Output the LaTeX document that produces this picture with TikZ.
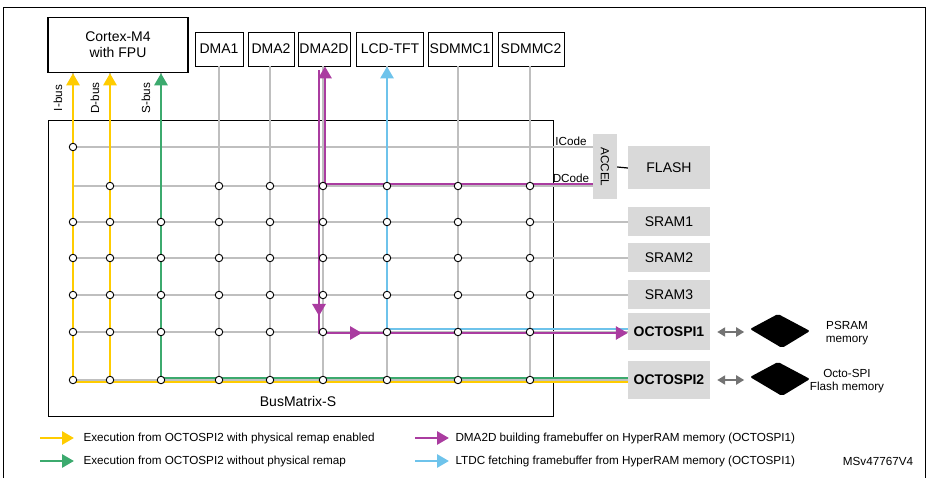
\documentclass[tikz,border=0pt]{standalone}
\usepackage{fontspec}
\setmainfont{Liberation Sans}
\usetikzlibrary{arrows.meta,positioning}
\definecolor{busY}{RGB}{255,204,0}
\definecolor{busG}{RGB}{60,170,110}
\definecolor{busM}{RGB}{170,60,160}
\definecolor{busC}{RGB}{110,195,235}
\definecolor{slaveG}{RGB}{217,217,217}
\tikzset{
  master/.style={%
    draw=black, thick, fill=white,
    minimum height=34pt, inner xsep=1pt,
    font=\fontsize{14}{16}\selectfont
  },
  slave/.style={%
    fill=slaveG, minimum width=82pt,
    font=\fontsize{14}{16}\selectfont
  },
  grid/.style={draw=black!25, line width=2pt},
  dot/.style={circle, draw=black, fill=white, inner sep=0pt,
    minimum size=7.5pt, line width=0.9pt},
  path/.style={line width=2.8pt, -{Triangle[length=12pt,width=13pt]}},
  small/.style={font=\fontsize{11.7}{13.5}\selectfont}
}
\begin{document}
\begin{tikzpicture}[x=1pt,y=-1pt]
\useasboundingbox (0,0) rectangle (930,481);
\draw[thin] (3,478) -- (3,7) -- (925,7) -- (925,478);

% Masters
\node[master, minimum width=140pt, minimum height=55pt, line width=1.6pt,
  align=center] (cpu) at (118,45) {Cortex-M4\\with FPU};
\node[master, minimum width=48pt] (dma1) at (219,49) {DMA1};
\node[master, minimum width=46pt] (dma2) at (271,49) {DMA2};
\node[master, minimum width=52pt] (dma2d) at (324,49) {DMA2D};
\node[master, minimum width=67pt] (lcd) at (390,49) {LCD-TFT};
\node[master, minimum width=64pt] (sd1) at (460,49) {SDMMC1};
\node[master, minimum width=66pt] (sd2) at (531,49) {SDMMC2};

% Bus matrix
\node[draw, thick, minimum width=505pt, minimum height=296pt] (matrix) at (300.5,268) {};
\node[font=\fontsize{14}{16}\selectfont] (mlabel) at (298,401) {BusMatrix-S};

% Slaves
\node[fill=slaveG, minimum width=24pt, minimum height=65pt] (accel) at (605,167) {};
\node[rotate=-90, small] at (accel) {ACCEL};
\node[slave, minimum height=43pt] (flash) at (669,168) {FLASH};
\node[slave, minimum height=29pt] (sram1) at (669,222) {SRAM1};
\node[slave, minimum height=29pt] (sram2) at (669,258) {SRAM2};
\node[slave, minimum height=29pt] (sram3) at (669,295) {SRAM3};
\node[slave, minimum height=37pt, font=\bfseries\fontsize{14}{16}\selectfont] (ospi1) at (669,332) {OCTOSPI1};
\node[slave, minimum height=37pt, font=\bfseries\fontsize{14}{16}\selectfont] (ospi2) at (669,380) {OCTOSPI2};
\draw[line width=1.2pt] (accel.east) -- (flash.west);

% Grid lines
\foreach \x in {73,110,161} \draw[grid] (\x,73) -- (\x,380);
\foreach \x/\m in {219/dma1,270/dma2,323/dma2d,387/lcd,458/sd1,530/sd2}
  \draw[grid] (\m.south -| \x,0) -- (\x,380);
\draw[grid] (73,147) -- (accel.west |- 0,147);
\draw[grid] (73,186) -- (accel.west |- 0,186);
\foreach \y/\s in {222/sram1,258/sram2,295/sram3,332/ospi1,380/ospi2}
  \draw[grid] (73,\y) -- (\s.west |- 0,\y);

% Coloured paths
\draw[path, busY] (ospi2.west |- 0,382) -- (73,382) -- (cpu.south -| 73,0);
\draw[path, busY] (110,382) -- (cpu.south -| 110,0);
\draw[path, busG] (ospi2.west |- 0,378) -- (161,378) -- (cpu.south -| 161,0);
\draw[path, busC] (ospi1.west |- 0,329) -- (387,329) -- (lcd.south -| 387,0);
\draw[path, busM] (accel.west |- 0,184) -- (325,184) -- (dma2d.south -| 325,0);
\draw[path, busM] (dma2d.south -| 319,0) ++(0,4) -- (319,316);
\draw[path, busM] (319,314) -- (319,333) -- (362,333);
\draw[path, busM] (355,333) -- (ospi1.west |- 0,333);

% Crossbar nodes
\node[dot] at (73,147) {};
\foreach \x in {110,219,270,323,387,458,530} \node[dot] at (\x,186) {};
\foreach \y in {222,258,295,332,380}
  \foreach \x in {73,110,161,219,270,323,387,458,530} \node[dot] at (\x,\y) {};

% Bus labels
\node[small, rotate=90] at (58,98) {I-bus};
\node[small, rotate=90] at (95,98) {D-bus};
\node[small, rotate=90] at (146,98) {S-bus};
\node[small] at (571,141) {ICode};
\node[small] at (571,178) {DCode};

% External memories
\foreach \y/\s/\t in {332/ospi1/{PSRAM\\memory},380/ospi2/{Octo-SPI\\Flash memory}} {
  \draw[black!55, line width=2.5pt, {Triangle[length=8pt,width=9pt]}-{Triangle[length=8pt,width=9pt]}]
    (\s.east) ++(7,0) -- ++(27,0);
  \fill[black, rounded corners=2pt] (750,\y-3) -- (778,\y-18) -- (810,\y-1) -- (782,\y+16) -- cycle;
  \node[small, align=center] at (847,\y+1) {\t};
}

% Legend
\draw[path, busY] (40,438) -- (74,438);
\node[small, anchor=west] at (80,438) {Execution from OCTOSPI2 with physical remap enabled};
\draw[path, busG] (40,461) -- (74,461);
\node[small, anchor=west] at (80,461) {Execution from OCTOSPI2 without physical remap};
\draw[path, busM] (415,438) -- (449,438);
\node[small, anchor=west] at (452,438) {DMA2D building framebuffer on HyperRAM memory (OCTOSPI1)};
\draw[path, busC] (415,461) -- (449,461);
\node[small, anchor=west] at (452,461) {LTDC fetching framebuffer from HyperRAM memory (OCTOSPI1)};
\node[small] at (878,461) {MSv47767V4};
\end{tikzpicture}
\end{document}
